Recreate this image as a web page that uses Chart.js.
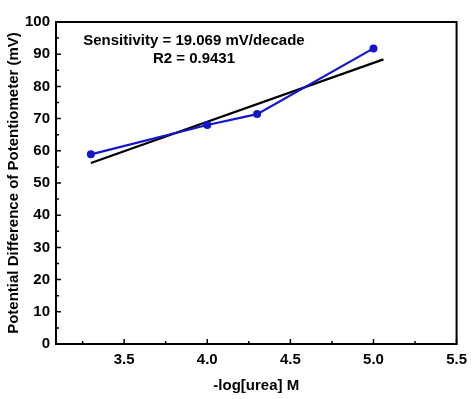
<!DOCTYPE html>
<html>
<head>
<meta charset="utf-8">
<script src="https://cdn.jsdelivr.net/npm/chart.js@4"></script>
<style>
  html, body { margin: 0; padding: 0; background: #fff; }
  #wrap { width: 474px; height: 399px; }
</style>
</head>
<body>
<div id="wrap"><canvas id="chart" width="474" height="399"></canvas></div>
<script>
// measured points
const ureaLog = [3.3, 4.0, 4.3, 5.0];
const potential = [58.9, 68.0, 71.4, 91.8];

// linear fit line (end points)
const fitX = [3.3, 5.06];
const fitY = [56.2, 88.4];

// tick positions
const xTicks = [3.5, 4.0, 4.5, 5.0, 5.5];
const xMinor = [3.25, 3.75, 4.25, 4.75, 5.25];
const yTicks = [0, 10, 20, 30, 40, 50, 60, 70, 80, 90, 100];
const yMinor = [5, 15, 25, 35, 45, 55, 65, 75, 85, 95];

const noteLines = ['Sensitivity = 19.069 mV/decade', 'R2 = 0.9431'];

const FONT = '"Liberation Sans", Arial, sans-serif';

// box frame + inward ticks + the fit note
const frame = {
    id: 'frame',
    afterDatasetsDraw(chart) {
        const { ctx, chartArea: a, scales: { x, y } } = chart;
        ctx.save();
        ctx.strokeStyle = '#000';
        ctx.lineWidth = 1.5;
        ctx.beginPath();
        xTicks.forEach(v => { const p = x.getPixelForValue(v); ctx.moveTo(p, a.bottom); ctx.lineTo(p, a.bottom - 5); });
        xMinor.forEach(v => { const p = x.getPixelForValue(v); ctx.moveTo(p, a.bottom); ctx.lineTo(p, a.bottom - 3); });
        yTicks.forEach(v => { const p = y.getPixelForValue(v); ctx.moveTo(a.left, p); ctx.lineTo(a.left + 5, p); });
        yMinor.forEach(v => { const p = y.getPixelForValue(v); ctx.moveTo(a.left, p); ctx.lineTo(a.left + 3, p); });
        ctx.stroke();

        ctx.lineWidth = 2;
        ctx.strokeRect(a.left, a.top, a.right - a.left, a.bottom - a.top);

        ctx.fillStyle = '#000';
        ctx.font = 'bold 15px ' + FONT;
        ctx.textAlign = 'center';
        ctx.textBaseline = 'middle';
        const cx = x.getPixelForValue(3.92);
        ctx.fillText(noteLines[0], cx, y.getPixelForValue(94.1));
        ctx.fillText(noteLines[1], cx, y.getPixelForValue(88.4));
        ctx.restore();
    }
};

const data = {
    datasets: [
        {
            label: 'Fit',
            data: fitX.map((v, i) => ({ x: v, y: fitY[i] })),
            showLine: true,
            borderColor: '#000',
            borderWidth: 2.2,
            pointRadius: 0,
            order: 2
        },
        {
            label: 'Potential',
            data: ureaLog.map((v, i) => ({ x: v, y: potential[i] })),
            showLine: true,
            borderColor: 'rgb(20, 20, 205)',
            backgroundColor: 'rgb(20, 20, 205)',
            borderWidth: 2.2,
            pointRadius: 4,
            pointBorderWidth: 0,
            order: 1
        }
    ]
};

const config = {
    type: 'scatter',
    data: data,
    options: {
        responsive: false,
        animation: false,
        layout: { padding: { top: 22, right: 14, left: 5, bottom: 4 } },
        plugins: {
            legend: { display: false },
            tooltip: { enabled: false }
        },
        scales: {
            x: {
                type: 'linear',
                min: 3.09,
                max: 5.5,
                afterBuildTicks: s => { s.ticks = xTicks.map(v => ({ value: v })); },
                grid: { display: false, drawTicks: false },
                border: { display: false },
                ticks: {
                    color: '#000',
                    padding: 7,
                    font: { family: FONT, weight: 'bold', size: 15 },
                    callback: v => v.toFixed(1)
                },
                title: {
                    display: true,
                    text: '-log[urea] M',
                    color: '#000',
                    padding: { top: 1, bottom: 0 },
                    font: { family: FONT, weight: 'bold', size: 15 }
                }
            },
            y: {
                type: 'linear',
                min: 0,
                max: 100,
                afterBuildTicks: s => { s.ticks = yTicks.map(v => ({ value: v })); },
                afterFit: s => { s.width = 51; },
                grid: { display: false, drawTicks: false },
                border: { display: false },
                ticks: {
                    color: '#000',
                    padding: 6,
                    font: { family: FONT, weight: 'bold', size: 15 }
                },
                title: {
                    display: true,
                    text: 'Potential Difference of Potentiometer (mV)',
                    color: '#000',
                    padding: { top: 0, bottom: 2 },
                    font: { family: FONT, weight: 'bold', size: 15 }
                }
            }
        }
    },
    plugins: [frame]
};

new Chart(document.getElementById('chart'), config);
</script>
</body>
</html>
